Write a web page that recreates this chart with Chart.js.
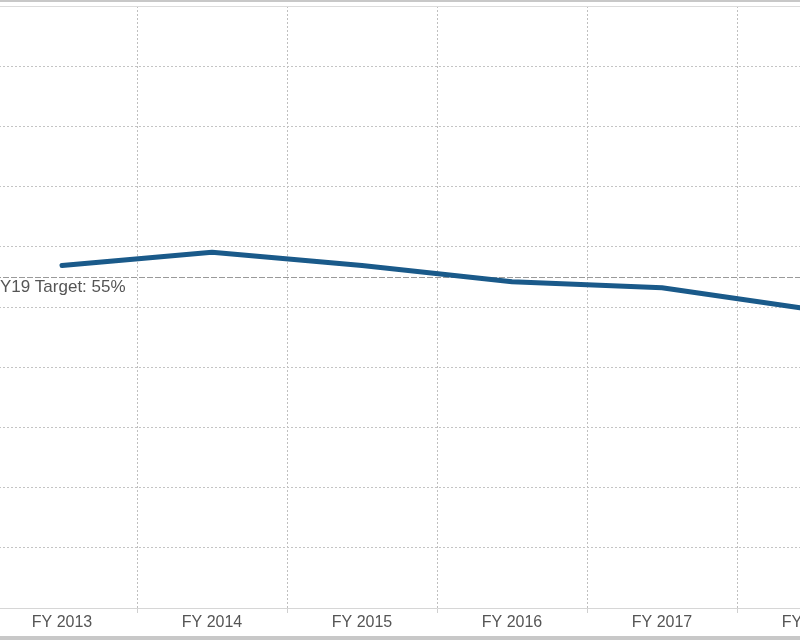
<!DOCTYPE html>
<html>
<head>
<meta charset="utf-8">
<script src="https://cdn.jsdelivr.net/npm/chart.js@4.4.1/dist/chart.umd.min.js"></script>
<style>
  html, body { margin: 0; padding: 0; background: #fff; width: 800px; height: 640px; overflow: hidden; position: relative; }
  #topbar { position: absolute; left: 0; top: 0; width: 800px; height: 2px; background: #c8c8c8; }
  #botbar { position: absolute; left: 0; top: 636px; width: 800px; height: 4px; background: #c8c8c8; }
  #wrap { position: absolute; left: -13px; top: 0; width: 900px; height: 636px; }
</style>
</head>
<body>
<div id="topbar"></div>
<div id="wrap"><canvas id="c"></canvas></div>
<div id="botbar"></div>
<script>
const categories = ['FY 2013', 'FY 2014', 'FY 2015', 'FY 2016', 'FY 2017', 'FY 2018'];
const values = [56.9, 59.1, 56.9, 54.2, 53.2, 49.6];
const targetValue = 55;
const targetLabel = 'FY19 Target: 55%';
const yMin = 0, yMax = 100, yStep = 10;

const refLinePlugin = {
  id: 'refLine',
  beforeDatasetsDraw(chart) {
    const { ctx, chartArea, scales } = chart;
    ctx.save();
    // solid top frame line
    const yt = scales.y.getPixelForValue(yMax);
    ctx.strokeStyle = '#dcdcdc';
    ctx.lineWidth = 1;
    ctx.setLineDash([]);
    ctx.beginPath();
    ctx.moveTo(0, Math.round(yt) + 0.5);
    ctx.lineTo(chart.width, Math.round(yt) + 0.5);
    ctx.stroke();
    // target line
    const y = scales.y.getPixelForValue(targetValue);
    ctx.strokeStyle = '#9a9a9a';
    ctx.setLineDash([6, 2]);
    ctx.beginPath();
    ctx.moveTo(chartArea.left, Math.round(y) + 0.5);
    ctx.lineTo(chartArea.right, Math.round(y) + 0.5);
    ctx.stroke();
    ctx.restore();
  },
  afterDatasetsDraw(chart) {
    const { ctx, chartArea, scales } = chart;
    const y = scales.y.getPixelForValue(targetValue);
    ctx.save();
    ctx.font = '17px "Liberation Sans", Arial, sans-serif';
    ctx.fillStyle = '#555';
    ctx.textBaseline = 'alphabetic';
    ctx.textAlign = 'left';
    ctx.fillText(targetLabel, chartArea.left + 2.5, y + 15);
    ctx.restore();
  }
};

new Chart(document.getElementById('c'), {
  type: 'line',
  data: {
    labels: categories,
    datasets: [{
      data: values,
      borderColor: '#1a5a8a',
      borderWidth: 5,
      pointRadius: 0,
      pointHoverRadius: 0,
      tension: 0,
      fill: false,
      borderCapStyle: 'round',
      borderJoinStyle: 'round'
    }]
  },
  options: {
    responsive: true,
    maintainAspectRatio: false,
    animation: false,
    events: [],
    layout: { padding: { top: 6, bottom: 0, left: 0, right: 0 } },
    plugins: { legend: { display: false }, tooltip: { enabled: false } },
    scales: {
      x: {
        type: 'category',
        offset: true,
        grid: {
          offset: true,
          color: '#bfbfbf',
          tickColor: '#d0d0d0',
          tickLength: 5,
          drawTicks: true
        },
        border: { display: true, color: '#d6d6d6', width: 1, dash: [2, 2] },
        ticks: {
          color: '#555',
          padding: 0,
          maxRotation: 0,
          autoSkip: false,
          font: { family: '"Liberation Sans", Arial, sans-serif', size: 16 }
        },
        afterFit(scale) { scale.height = 28; }
      },
      y: {
        min: yMin,
        max: yMax,
        display: true,
        ticks: { display: false, stepSize: yStep },
        grid: {
          drawTicks: false,
          color: (ctx) => (ctx.tick && (ctx.tick.value === yMin || ctx.tick.value === yMax)) ? 'rgba(0,0,0,0)' : '#c4c4c4'
        },
        border: { display: false, dash: [2, 2] },
        afterFit(scale) { scale.width = 0; }
      }
    }
  },
  plugins: [refLinePlugin]
});
</script>
</body>
</html>
